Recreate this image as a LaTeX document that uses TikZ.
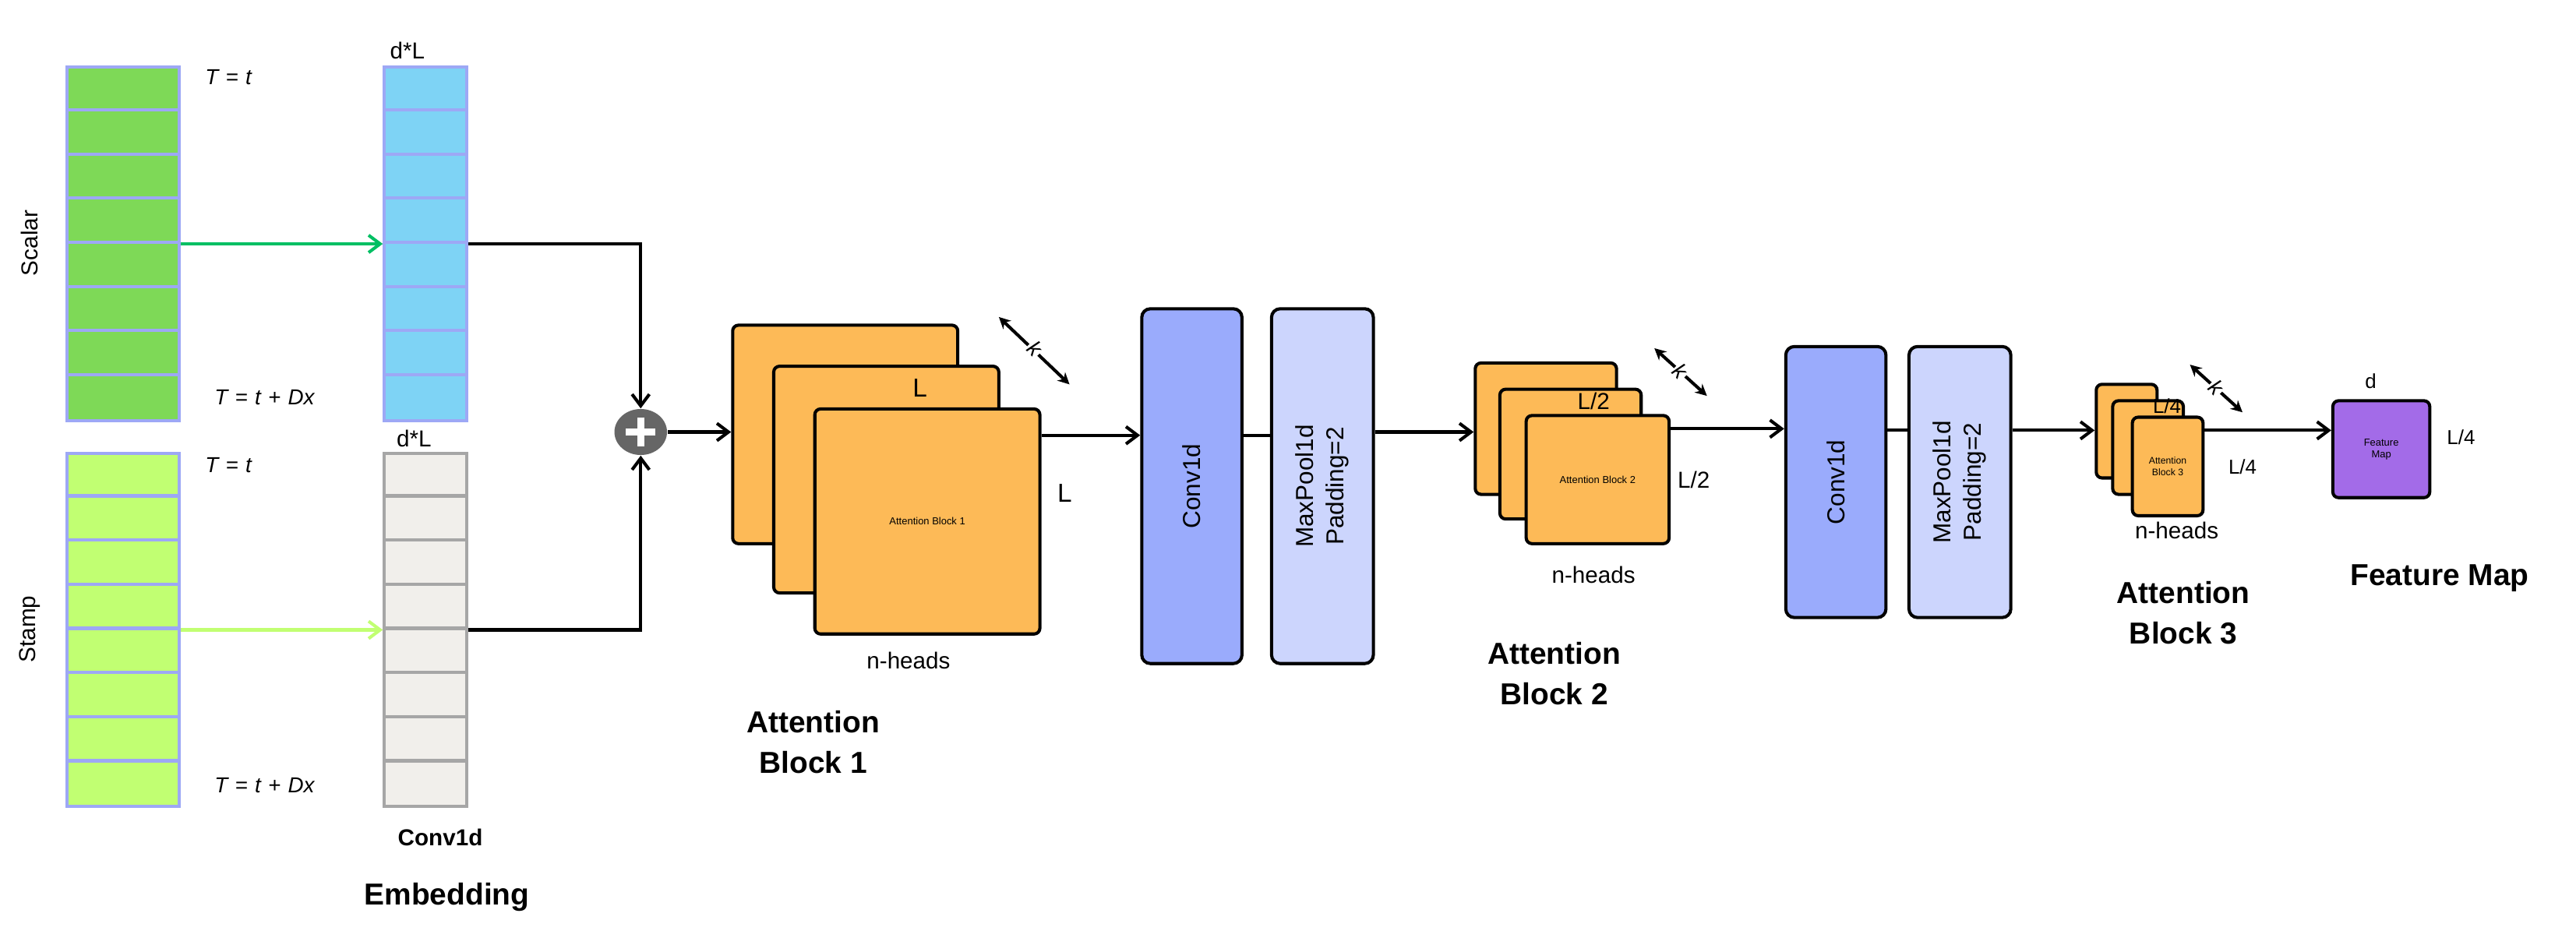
\documentclass[tikz,border=0pt]{standalone}
\usepackage{fontspec}
\setmainfont{Liberation Sans}
\usetikzlibrary{arrows.meta,shapes.geometric}
\definecolor{gA}{HTML}{7ED957}
\definecolor{gB}{HTML}{C1FF72}
\definecolor{bC}{HTML}{7ED3F5}
\definecolor{grC}{HTML}{F1EFEB}
\definecolor{edgeB}{HTML}{9DA8F5}
\definecolor{orng}{HTML}{FDBA57}
\definecolor{convC}{HTML}{9AABFC}
\definecolor{poolC}{HTML}{CCD5FD}
\definecolor{purp}{HTML}{A36BE8}
\definecolor{arrG}{HTML}{00BF63}
\newlength\ulen \setlength\ulen{0.2mm}
\tikzset{
  col/.style={draw=edgeB,line width=1.1pt,inner sep=0pt},
  sz/.style 2 args={minimum width={(#1)*\ulen},minimum height={(#2)*\ulen}},
  conn/.style={line width=1.1pt,-{Straight Barb[length=4pt,width=6pt]}},
  plain/.style={line width=1.1pt},
  blk/.style={draw=black,line width=1.1pt,fill=orng,rounded corners=2pt,inner sep=0pt},
  layer/.style={draw=black,line width=1.1pt,rounded corners=3pt,inner sep=0pt},
  lbl/.style={font=\fontsize{8}{9}\selectfont,inner sep=0pt},
  ital/.style={font=\fontsize{7.5}{9}\selectfont\itshape,inner sep=0pt},
  ttl/.style={font=\fontsize{10.5}{14}\selectfont\bfseries,align=center,inner sep=0pt},
  kk/.style={line width=1.1pt,{Stealth[length=4pt,width=4pt]}-{Stealth[length=4pt,width=4pt]}},
}
\begin{document}
\begin{tikzpicture}[x=0.2mm,y=-0.2mm]
\useasboundingbox (0,0) rectangle (1568,571);
% columns
\newcommand{\mkcol}[7]{% name, x1, y1, x2, y2, fill, edge
  \node[col,draw=#7,fill=#6,sz={#4-#2}{#5-#3},anchor=north west] (#1) at (#2,#3) {};
  \foreach \i in {1,...,7} {\draw[draw=#7,line width=1.1pt] (#2,{#3+\i*(#5-#3)/8}) -- (#4,{#3+\i*(#5-#3)/8});}
}
\mkcol{scal}{40}{40}{108}{255}{gA}{edgeB}
\mkcol{emb}{233}{40}{283}{255}{bC}{edgeB}
\mkcol{stamp}{40}{275}{108}{490}{gB}{edgeB}
\mkcol{emb2}{233}{275}{283}{490}{grC}{gray!70}

\node[lbl,rotate=90] (lscal) at (18,148) {Scalar};
\node[lbl,rotate=90] (lstamp) at (18,383) {Stamp};
\node[ital] (t1) at (139,47) {T\,\,=\,\,t};
\node[ital] (t2) at (161,242) {T\,\,=\,\,t\,\,+\,\,Dx};
\node[ital] (t3) at (139,283) {T\,\,=\,\,t};
\node[ital] (t4) at (161,478) {T\,\,=\,\,t\,\,+\,\,Dx};
\node[lbl] (dl1) at (248,31) {d*L};
\node[lbl] (dl2) at (252,267) {d*L};
\node[lbl,font=\fontsize{8}{9}\selectfont\bfseries] (cv) at (268,510) {Conv1d};
\node[ttl] (embt) at (272,546) {Embedding};

\draw[conn,draw=arrG] (scal.east) -- (emb.west);
\draw[conn,draw=gB] (stamp.east) -- (emb2.west);

\node[ellipse,fill=gray!80!black,minimum width={32*\ulen},minimum height={28*\ulen},inner sep=0pt] (plus) at (390,263) {};
\draw[white,line width=2.4pt] (381,263)--(399,263) (390,254)--(390,272);
\draw[conn] (emb.east) -| (plus.north);
\draw[conn] (emb2.east) -| (plus.south);

% block 1
\node[blk,sz={137}{133},anchor=north west] (a11) at (445,197) {};
\node[blk,sz={137}{138},anchor=north west] (a12) at (470,222) {};
\node[blk,sz={137}{137},anchor=north west,font=\fontsize{3.5}{4}\selectfont] (a13) at (495,248) {Attention Block 1};
\node[lbl,font=\fontsize{9}{10}\selectfont] (L1a) at (560,236) {L};
\node[lbl,font=\fontsize{9}{10}\selectfont] (L1b) at (648,300) {L};
\node[lbl] (nh1) at (553,402) {n-heads};
\node[ttl] (t1b) at (495,452) {Attention\\Block 1};
\coordinate (k1a) at (608,193); \coordinate (k1b) at (651,234);
\draw[kk] (k1a) -- (k1b);
\node[ital,fill=white,inner sep=0.5pt,rotate=-45] (k1) at (630,212) {k};
\draw[conn] (plus.east) -- (a11.west |- plus);

% conv1 & pool1
\node[layer,fill=convC,sz={61}{216},anchor=north west] (c1) at (694,187) {};
\node[lbl,rotate=90,font=\fontsize{8.5}{10}\selectfont] at (c1.center) {Conv1d};
\node[layer,fill=poolC,sz={62}{216},anchor=north west] (p1) at (773,187) {};
\node[lbl,rotate=90,align=center,font=\fontsize{8.5}{10.5}\selectfont] at (p1.center) {MaxPool1d\\Padding=2};
\draw[conn] (a13.east |- 0,265) -- (c1.west |- 0,265);
\draw[plain] (c1.east |- 0,265) -- (p1.west |- 0,265);

% block 2
\node[blk,sz={86}{80},anchor=north west] (a21) at (897,220) {};
\node[blk,sz={86}{79},anchor=north west] (a22) at (912,236) {};
\node[blk,sz={87}{78},anchor=north west,font=\fontsize{3.5}{4}\selectfont] (a23) at (928,252) {Attention Block 2};
\node[lbl] (L2a) at (970,244) {L/2};
\node[lbl] (L2b) at (1031,292) {L/2};
\node[lbl] (nh2) at (970,350) {n-heads};
\node[ttl] (t2b) at (946,410) {Attention\\Block 2};
\coordinate (k2a) at (1007,212); \coordinate (k2b) at (1039,241);
\draw[kk] (k2a) -- (k2b);
\node[ital,fill=white,inner sep=0.5pt,rotate=-45] (k2) at (1023,226) {k};
\draw[conn] (p1.east |- 0,263) -- (a21.west |- 0,263);

% conv2 & pool2
\node[layer,fill=convC,sz={61}{165},anchor=north west] (c2) at (1086,210) {};
\node[lbl,rotate=90,font=\fontsize{8.5}{10}\selectfont] at (c2.center) {Conv1d};
\node[layer,fill=poolC,sz={62}{165},anchor=north west] (p2) at (1161,210) {};
\node[lbl,rotate=90,align=center,font=\fontsize{8.5}{10.5}\selectfont] at (p2.center) {MaxPool1d\\Padding=2};
\draw[conn] (a23.east |- 0,261) -- (c2.west |- 0,261);
\draw[plain] (c2.east |- 0,262) -- (p2.west |- 0,262);

% block 3
\node[blk,sz={37}{57},anchor=north west] (a31) at (1275,233) {};
\node[blk,sz={43}{57},anchor=north west] (a32) at (1285,243) {};
\node[blk,sz={43}{60},anchor=north west,font=\fontsize{3.3}{4}\selectfont,align=center] (a33) at (1297,253) {Attention\\Block 3};
\node[lbl,font=\fontsize{7}{8}\selectfont] (L3a) at (1319,247) {L/4};
\node[lbl,font=\fontsize{7}{8}\selectfont] (L3b) at (1365,284) {L/4};
\node[lbl] (nh3) at (1325,323) {n-heads};
\node[ttl] (t3b) at (1329,373) {Attention\\Block 3};
\coordinate (k3a) at (1333,222); \coordinate (k3b) at (1365,251);
\draw[kk] (k3a) -- (k3b);
\node[ital,fill=white,inner sep=0.5pt,rotate=-45] (k3) at (1349,236) {k};
\draw[conn] (p2.east |- 0,262) -- (a31.west |- 0,262);

% feature map
\node[layer,fill=purp,sz={59}{59},anchor=north west,font=\fontsize{3.5}{4}\selectfont,align=center,rounded corners=2pt] (fm) at (1419,243) {Feature\\Map};
\node[lbl,font=\fontsize{7}{8}\selectfont] (dd) at (1443,232) {d};
\node[lbl,font=\fontsize{7}{8}\selectfont] (L4) at (1498,266) {L/4};
\node[ttl] (fmt) at (1485,352) {Feature Map};
\draw[conn] (a33.east |- 0,262) -- (fm.west |- 0,262);
\end{tikzpicture}
\end{document}
